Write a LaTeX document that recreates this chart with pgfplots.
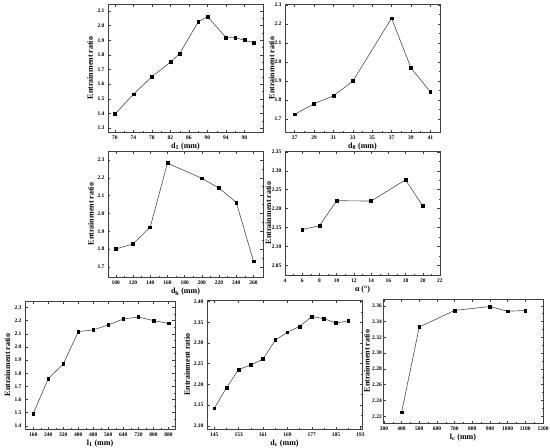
\documentclass[border=0pt]{standalone}
\usepackage{fontspec}
\setmainfont{Liberation Serif}
\usepackage{pgfplots}
\pgfplotsset{compat=1.18}
\pgfplotsset{
  myax/.style={
    scale only axis,
    anchor=north west,
    axis line style={black!75, line width=0.5pt},
    tick style={black!75, line width=0.4pt},
    major tick length=2.5pt,
    minor tick length=1.4pt,
    minor tick num=1,
    tick align=inside,
    /pgf/number format/assume math mode=true,
    ticklabel style={font=\fontsize{5.5}{6}\selectfont\bfseries},
    label style={font=\fontsize{8}{9}\selectfont\bfseries},
    ylabel={Entrainment ratio},
    xlabel shift=-3pt,
    xticklabel style={/pgf/number format/.cd, fixed, 1000 sep={}},
  },
  ylab/.style={ylabel style={at={(axis description cs:#1,0.5)}, anchor=base}},
  myline/.style={black!70, line width=0.6pt, mark=square*, mark size=1.4pt,
    mark options={fill=black, draw=black}},
}
\begin{document}
\begin{tikzpicture}
\useasboundingbox (0,0) rectangle (550pt,-448pt);
% d1
\begin{axis}[myax, ylab=-0.097, at={(108pt,-4pt)}, width=155pt, height=128pt,
  xmin=68.5, xmax=102, ymin=1.273, ymax=2.148,
  xtick={70,74,...,98}, ytick={1.3,1.4,...,2.15},
  yticklabel style={/pgf/number format/.cd, fixed, fixed zerofill, precision=1},
  xlabel={d\textsubscript{1} (mm)}]
\addplot[myline] coordinates {(70,1.395) (74,1.531) (78,1.651) (82,1.751) (84,1.81) (88,2.026) (90,2.062) (94,1.919) (96,1.917) (98,1.901) (100,1.883)};
\end{axis}
% d0
\begin{axis}[myax, ylab=-0.068, at={(285pt,-4pt)}, width=155pt, height=128pt,
  xmin=26, xmax=42, ymin=1.63, ymax=2.305,
  xtick={27,29,...,41}, ytick={1.7,1.8,...,2.35},
  yticklabel style={/pgf/number format/.cd, fixed, fixed zerofill, precision=1},
  xlabel={d\textsubscript{0} (mm)}]
\addplot[myline] coordinates {(27,1.723) (29,1.779) (31,1.821) (33,1.898) (37,2.23) (39,1.968) (41,1.842)};
\end{axis}
% dh
\begin{axis}[myax, ylab=-0.092, at={(108pt,-151pt)}, width=155pt, height=126pt,
  xmin=91, xmax=271, ymin=1.644, ymax=2.35,
  xtick={100,120,...,260}, ytick={1.7,1.8,...,2.35},
  yticklabel style={/pgf/number format/.cd, fixed, fixed zerofill, precision=1},
  xlabel={d\textsubscript{h} (mm)}]
\addplot[myline] coordinates {(100,1.801) (120,1.829) (140,1.923) (160,2.282) (200,2.197) (220,2.142) (240,2.062) (260,1.732)};
\end{axis}
% alpha
\begin{axis}[myax, ylab=-0.09, at={(285pt,-151pt)}, width=155pt, height=124pt,
  xmin=4, xmax=22, ymin=2.025, ymax=2.352,
  xtick={4,6,...,22}, ytick={2.05,2.10,...,2.36},
  yticklabel style={/pgf/number format/.cd, fixed, fixed zerofill, precision=2},
  xlabel={α (°)}]
\addplot[myline] coordinates {(6,2.145) (8,2.155) (10,2.221) (14,2.220) (18,2.276) (20,2.207)};
\end{axis}
% l1
\begin{axis}[myax, ylab=-0.1, at={(25pt,-301pt)}, width=150pt, height=128pt,
  xmin=116, xmax=915, ymin=1.375, ymax=2.35,
  xtick={160,240,...,880}, ytick={1.4,1.5,...,2.35},
  yticklabel style={/pgf/number format/.cd, fixed, fixed zerofill, precision=1},
  xlabel={l\textsubscript{1} (mm)}]
\addplot[myline] coordinates {(160,1.493) (240,1.759) (320,1.870) (400,2.117) (480,2.130) (560,2.168) (640,2.213) (720,2.228) (800,2.201) (880,2.180)};
\end{axis}
% dc
\begin{axis}[myax, ylab=-0.11, at={(207pt,-300pt)}, width=155pt, height=129pt,
  xmin=142.6, xmax=193.5, ymin=2.092, ymax=2.404,
  xtick={145,153,...,193}, ytick={2.10,2.15,...,2.41},
  yticklabel style={/pgf/number format/.cd, fixed, fixed zerofill, precision=2},
  xlabel={d\textsubscript{c} (mm)}]
\addplot[myline] coordinates {(145,2.142) (149,2.192) (153,2.236) (157,2.247) (161,2.261) (165,2.307) (169,2.326) (173,2.340) (177,2.364) (181,2.359) (185,2.348) (189,2.354)};
\end{axis}
% lc
\begin{axis}[myax, ylab=-0.083, at={(383pt,-299pt)}, width=160pt, height=124pt,
  xmin=295, xmax=1200, ymin=2.2115, ymax=2.3685,
  xtick={300,400,...,1200}, ytick={2.22,2.24,...,2.37},
  yticklabel style={inner xsep=1pt, /pgf/number format/.cd, fixed, fixed zerofill, precision=2},
  xlabel={l\textsubscript{c} (mm)}]
\addplot[myline] coordinates {(400,2.225) (500,2.333) (700,2.354) (900,2.359) (1000,2.353) (1100,2.354)};
\end{axis}
\end{tikzpicture}
\end{document}
